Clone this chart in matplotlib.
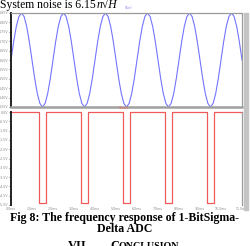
import numpy as np
import matplotlib
matplotlib.use("Agg")
import matplotlib.pyplot as plt

# input sine, one period (16 samples per 2 ms period)
sine_period = [0.600, 0.696, 0.777, 0.831, 0.850, 0.831, 0.777, 0.696,
               0.600, 0.504, 0.423, 0.369, 0.350, 0.369, 0.423, 0.504]
n_periods = 5.5
period_ms = 2.0

# 1-bit output: low pulses at the troughs of the input
pulse_start = [1.33, 3.33, 5.33, 7.33, 9.33]
pulse_end = [1.68, 3.68, 5.68, 7.68, 9.68]
out_high = 0.0
out_low = -4.9

top_ticks = [0.35, 0.40, 0.45, 0.50, 0.55, 0.60, 0.65, 0.70, 0.75, 0.80, 0.85]
bot_ticks = [0.0, -0.5, -1.0, -1.5, -2.0, -2.5, -3.0, -3.5, -4.0, -4.5, -5.0]
time_ticks = [0, 1, 2, 3, 4, 5, 6, 7, 8, 9, 10, 11]

# build traces
n_samp = int(len(sine_period) * n_periods)
sine_v = np.array((sine_period * 6)[:n_samp + 1])
sine_t = np.arange(n_samp + 1) * period_ms / len(sine_period)

out_t = [0.0]
out_v = [out_high]
for s, e in zip(pulse_start, pulse_end):
    out_t += [s, s, e, e]
    out_v += [out_high, out_low, out_low, out_high]
out_t.append(time_ticks[-1])
out_v.append(out_high)

fig = plt.figure(figsize=(2.5, 2.46), dpi=100)
W, H = 250.0, 246.0

def box(x0, y0, x1, y1):
    return [x0 / W, 1 - y1 / H, (x1 - x0) / W, (y1 - y0) / H]

tick_font = dict(fontsize=2.3, color="#8a8a8a")
blue = "#7474ff"
red = "#f05a5a"

# top panel: input sine
ax1 = fig.add_axes(box(11, 13, 242, 107))
ax1.plot(sine_t, sine_v, color=blue, lw=0.8)
ax1.set_xlim(time_ticks[0], time_ticks[-1])
ax1.set_ylim(top_ticks[0], top_ticks[-1])
ax1.set_yticks(top_ticks)
ax1.set_yticklabels([f"{v:.2f}V" for v in top_ticks], **tick_font)
ax1.set_xticks([])
for side in ["top", "right"]:
    ax1.spines[side].set_color("#9a9a9a")
    ax1.spines[side].set_linewidth(0.9)
ax1.spines["bottom"].set_color("#a0a0a0")
ax1.spines["bottom"].set_linewidth(1.8)
ax1.spines["left"].set_color("#222222")
ax1.spines["left"].set_linewidth(1.4)
ax1.tick_params(axis="y", length=1.2, width=0.4, pad=0.8)
ax1.text(0.51, 1.03, "V(in)", transform=ax1.transAxes, ha="center", va="bottom",
         fontsize=2.3, color=blue)

# bottom panel: 1-bit output
ax2 = fig.add_axes(box(11, 112, 242, 205))
ax2.plot(out_t, out_v, color=red, lw=0.9, clip_on=False)
ax2.set_xlim(time_ticks[0], time_ticks[-1])
ax2.set_ylim(bot_ticks[-1], bot_ticks[0])
ax2.set_yticks(bot_ticks)
ax2.set_yticklabels([f"{v:.1f}V" for v in bot_ticks], **tick_font)
ax2.set_xticks(time_ticks)
ax2.set_xticklabels([f"{t:.1f}ms" for t in time_ticks], **tick_font)
ax2.spines["top"].set_visible(False)
ax2.spines["bottom"].set_visible(False)
ax2.spines["right"].set_color("#9a9a9a")
ax2.spines["right"].set_linewidth(0.9)
ax2.spines["left"].set_color("#222222")
ax2.spines["left"].set_linewidth(1.4)
ax2.tick_params(axis="y", length=1.2, width=0.4, pad=0.8)
ax2.tick_params(axis="x", length=0, pad=1.5)
ax2.text(0.49, 1.02, "V(out)", transform=ax2.transAxes, ha="center", va="bottom",
         fontsize=2.3, color=red)

# grey scroll bar at right edge
fig.patches.append(plt.Rectangle((244 / W, 1 - 210 / H), 4 / W, 197 / H,
                                 transform=fig.transFigure, color="#c4c4c4"))

serif = ["Liberation Serif", "DejaVu Serif"]
head = fig.text(0.0, 1 - 8 / H, "System noise is 6.15", family=serif,
                fontsize=8.4, va="baseline", ha="left")
renderer = fig.canvas.get_renderer()
x_end = head.get_window_extent(renderer).x1 / W
fig.text(x_end + 0.002, 1 - 8 / H, "n\u221aH", family=serif, style="italic",
         fontsize=8.4, va="baseline", ha="left")

fig.text(0.5, 1 - 221 / H, "Fig 8: The frequency response of 1-BitSigma-",
         family=serif, fontsize=8.6, weight="bold", ha="center", va="baseline")
fig.text(0.5, 1 - 232 / H, "Delta ADC", family=serif, fontsize=8.6, weight="bold",
         ha="center", va="baseline")
fig.text(68 / W, 1 - 249 / H, "VII.", family=serif, fontsize=9, weight="bold",
         ha="left", va="baseline")
fig.text(110 / W, 1 - 249 / H, "C", family=serif, fontsize=9, weight="bold",
         ha="left", va="baseline")
fig.text(118.5 / W, 1 - 249 / H, "ONCLUSION", family=serif, fontsize=7.2,
         weight="bold", ha="left", va="baseline")

fig.savefig("out.png", dpi=100)
